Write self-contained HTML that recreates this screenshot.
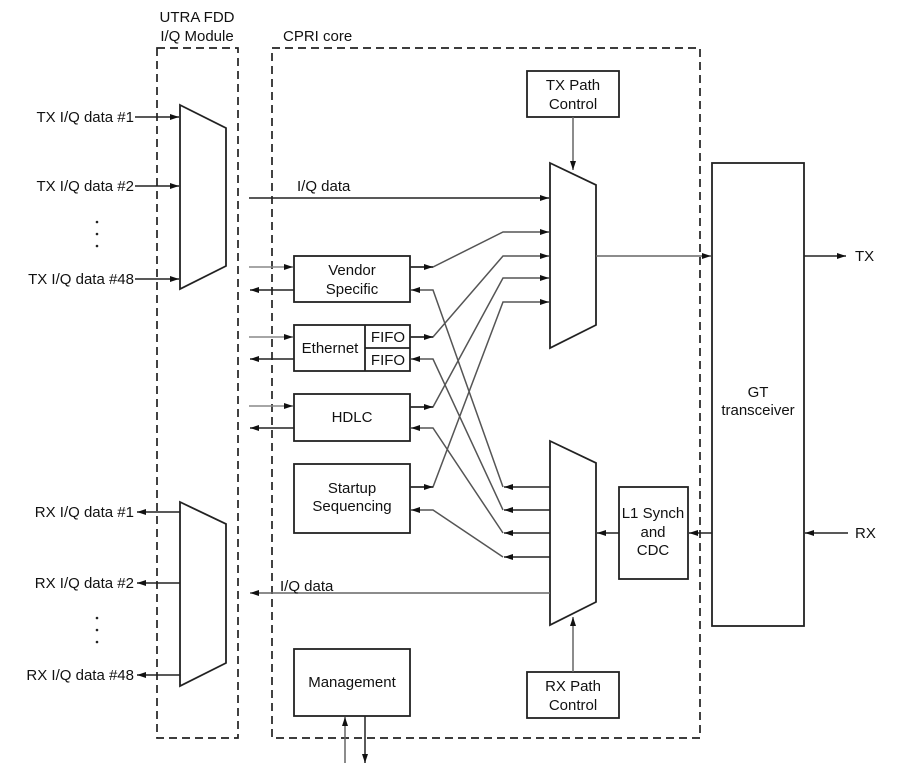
<!DOCTYPE html>
<html><head><meta charset="utf-8"><style>
html,body{margin:0;padding:0;background:#fff;}
svg{display:block;}
text{font-family:"Liberation Sans",sans-serif;font-size:15px;fill:#111;}
</style></head><body>
<svg width="900" height="778" viewBox="0 0 900 778" xmlns="http://www.w3.org/2000/svg">
<defs>
<marker id="a" markerWidth="10" markerHeight="8" refX="9" refY="4" orient="auto" markerUnits="userSpaceOnUse">
<path d="M0,1 L9,4 L0,7 Z" fill="#111"/></marker>
</defs>
<g fill="none" stroke="#222" stroke-width="1.7" stroke-dasharray="8,5">
<rect x="157" y="48" width="81" height="690"/>
<rect x="272" y="48" width="428" height="690"/>
</g>
<text x="197" y="22" text-anchor="middle">UTRA FDD</text>
<text x="197" y="41" text-anchor="middle">I/Q Module</text>
<text x="283" y="41">CPRI core</text>

<g fill="none" stroke="#222" stroke-width="1.8">
<path d="M180,105 L226,128 L226,266 L180,289 Z"/>
<path d="M180,502 L226,524 L226,663 L180,686 Z"/>
<path d="M550,163 L596,185 L596,325 L550,348 Z"/>
<path d="M550,441 L596,463 L596,602 L550,625 Z"/>
<rect x="527" y="71" width="92" height="46"/>
<rect x="527" y="672" width="92" height="46"/>
<rect x="712" y="163" width="92" height="463"/>
<rect x="619" y="487" width="69" height="92"/>
<rect x="294" y="256" width="116" height="46"/>
<rect x="294" y="325" width="116" height="46"/>
<line x1="365" y1="325" x2="365" y2="371"/>
<line x1="365" y1="348" x2="410" y2="348"/>
<rect x="294" y="394" width="116" height="47"/>
<rect x="294" y="464" width="116" height="69"/>
<rect x="294" y="649" width="116" height="67"/>
</g>

<g stroke="#222" stroke-width="1.5" fill="none">
<line x1="135" y1="117" x2="179" y2="117" marker-end="url(#a)"/>
<line x1="135" y1="186" x2="179" y2="186" marker-end="url(#a)"/>
<line x1="135" y1="279" x2="179" y2="279" marker-end="url(#a)"/>
<line x1="180" y1="512" x2="137" y2="512" marker-end="url(#a)"/>
<line x1="180" y1="583" x2="137" y2="583" marker-end="url(#a)"/>
<line x1="180" y1="675" x2="137" y2="675" marker-end="url(#a)"/>
<line x1="249" y1="198" x2="549" y2="198" marker-end="url(#a)"/>
<line x1="550" y1="593" x2="250" y2="593" marker-end="url(#a)" stroke="#666"/>
<line x1="249" y1="267" x2="293" y2="267" marker-end="url(#a)" stroke="#888"/>
<line x1="294" y1="290" x2="250" y2="290" marker-end="url(#a)"/>
<line x1="249" y1="337" x2="293" y2="337" marker-end="url(#a)" stroke="#888"/>
<line x1="294" y1="359" x2="250" y2="359" marker-end="url(#a)"/>
<line x1="249" y1="406" x2="293" y2="406" marker-end="url(#a)" stroke="#888"/>
<line x1="294" y1="428" x2="250" y2="428" marker-end="url(#a)"/>
<line x1="573" y1="117" x2="573" y2="170" marker-end="url(#a)" stroke="#666"/>
<line x1="573" y1="672" x2="573" y2="617" marker-end="url(#a)" stroke="#666"/>
<line x1="596" y1="256" x2="711" y2="256" marker-end="url(#a)" stroke="#666"/>
<line x1="804" y1="256" x2="846" y2="256" marker-end="url(#a)"/>
<line x1="848" y1="533" x2="805" y2="533" marker-end="url(#a)"/>
<line x1="712" y1="533" x2="689" y2="533" marker-end="url(#a)"/>
<line x1="619" y1="533" x2="597" y2="533" marker-end="url(#a)"/>
<line x1="345" y1="763" x2="345" y2="717" marker-end="url(#a)" stroke="#666"/>
<line x1="365" y1="716" x2="365" y2="763" marker-end="url(#a)"/>
<polyline points="410,267 433,267 503,232 549,232" marker-end="url(#a)" stroke="#555"/>
<polyline points="410,337 433,337 503,256 549,256" marker-end="url(#a)" stroke="#555"/>
<polyline points="410,407 433,407 503,278 549,278" marker-end="url(#a)" stroke="#555"/>
<polyline points="410,487 433,487 503,302 549,302" marker-end="url(#a)" stroke="#555"/>
<line x1="410" y1="267" x2="433" y2="267" marker-end="url(#a)"/>
<line x1="410" y1="337" x2="433" y2="337" marker-end="url(#a)"/>
<line x1="410" y1="407" x2="433" y2="407" marker-end="url(#a)"/>
<line x1="410" y1="487" x2="433" y2="487" marker-end="url(#a)"/>
<line x1="550" y1="487" x2="504" y2="487" marker-end="url(#a)"/>
<line x1="550" y1="510" x2="504" y2="510" marker-end="url(#a)"/>
<line x1="550" y1="533" x2="504" y2="533" marker-end="url(#a)"/>
<line x1="550" y1="557" x2="504" y2="557" marker-end="url(#a)"/>
<polyline points="503,487 433,290 411,290" marker-end="url(#a)" stroke="#555"/>
<polyline points="503,510 433,359 411,359" marker-end="url(#a)" stroke="#555"/>
<polyline points="503,533 433,428 411,428" marker-end="url(#a)" stroke="#555"/>
<polyline points="503,557 433,510 411,510" marker-end="url(#a)" stroke="#555"/>
</g>

<g fill="#222">
<circle cx="97" cy="222" r="1.3"/><circle cx="97" cy="234" r="1.3"/><circle cx="97" cy="246" r="1.3"/>
<circle cx="97" cy="618" r="1.3"/><circle cx="97" cy="630" r="1.3"/><circle cx="97" cy="642" r="1.3"/>
</g>

<g text-anchor="end">
<text x="134" y="122">TX I/Q data #1</text>
<text x="134" y="191">TX I/Q data #2</text>
<text x="134" y="284">TX I/Q data #48</text>
<text x="134" y="517">RX I/Q data #1</text>
<text x="134" y="588">RX I/Q data #2</text>
<text x="134" y="680">RX I/Q data #48</text>
</g>
<text x="297" y="191">I/Q data</text>
<text x="280" y="591">I/Q data</text>
<g text-anchor="middle">
<text x="573" y="90">TX Path</text><text x="573" y="109">Control</text>
<text x="573" y="691">RX Path</text><text x="573" y="710">Control</text>
<text x="758" y="397">GT</text><text x="758" y="415">transceiver</text>
<text x="653" y="518">L1 Synch</text><text x="653" y="537">and</text><text x="653" y="555">CDC</text>
<text x="352" y="275">Vendor</text><text x="352" y="294">Specific</text>
<text x="330" y="353">Ethernet</text>
<text x="388" y="342">FIFO</text><text x="388" y="365">FIFO</text>
<text x="352" y="422">HDLC</text>
<text x="352" y="493">Startup</text><text x="352" y="511">Sequencing</text>
<text x="352" y="687">Management</text>
</g>
<text x="855" y="261">TX</text>
<text x="855" y="538">RX</text>
</svg>
</body></html>
